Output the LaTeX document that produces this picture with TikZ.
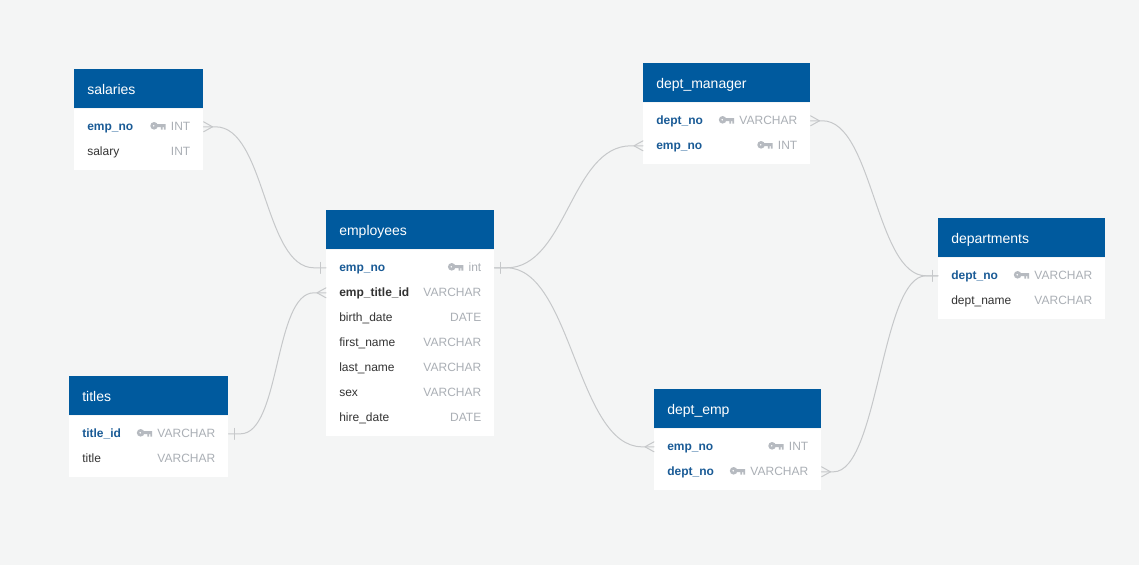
\documentclass[tikz,border=0pt]{standalone}
\usepackage{fontspec}
\setmainfont{Liberation Sans}
\usetikzlibrary{calc}
\definecolor{bgcol}{HTML}{F4F5F5}
\definecolor{headblue}{HTML}{005A9E}
\definecolor{keyblue}{HTML}{1A5B96}
\definecolor{coltext}{HTML}{333333}
\definecolor{typegray}{HTML}{AAAFB5}
\definecolor{keygray}{HTML}{B6BAC0}
\definecolor{linegray}{HTML}{C6C8CA}
\newcommand\rowfont{\fontsize{9}{11}\selectfont}
\begin{document}
\begin{tikzpicture}[x=0.75pt,y=-0.75pt,line join=round,line cap=round,
	every node/.style={inner sep=0pt},
	tblhead/.style={anchor=north west,fill=headblue,text=white,font=\fontsize{10.5}{12}\selectfont,
		text width=#1,align=left,inner xsep=9.75pt,minimum height=29.25pt,text height=9pt,text depth=0pt},
	row/.style={anchor=north west,text=coltext,font=\rowfont,text width=#1,align=left,
		inner xsep=9.75pt,minimum height=18.75pt,text height=5pt,text depth=0pt},
	col/.style={},
	pk/.style={text=keyblue,font=\rowfont\bfseries},
	fk/.style={font=\rowfont\bfseries},
	coltype/.style={anchor=east,text=typegray,font=\rowfont,text height=5pt,text depth=0pt},
	conn/.style={draw=linegray,line width=0.75pt},
	keyicon/.pic={
		\fill[keygray,even odd rule] (-11.6,-1) circle[radius=3.8] (-12,-1) circle[radius=1.1];
		\fill[keygray] (-8.5,-2.6) rectangle (0,0.3) (-4.8,0.3) rectangle (-3,2.7) (-1.9,0.3) rectangle (0,2.7);
	}]
	\fill[bgcol] (0,0) rectangle (1139,565);
	% salaries
	\node[tblhead=77.25pt] (sal) at (74,69) {salaries};
	\fill[white] (sal.south west) rectangle ++(129,61);
	\foreach \i/\n/\s/\t in {1/emp\_no/pk/INT,2/salary/col/INT}{
		\node[row=77.25pt,\s] (sal-\i) at ($(sal.south west)+(0,25*\i-19.5)$) {\n};
		\node[coltype] (sal-\i-t) at ([xshift=-9.75pt]sal-\i.east) {\t};
	}
	% employees
	\node[tblhead=106.5pt] (emp) at (326,210) {employees};
	\fill[white] (emp.south west) rectangle ++(168,186);
	\foreach \i/\n/\s/\t in {1/emp\_no/pk/int,2/emp\_title\_id/fk/VARCHAR,3/birth\_date/col/DATE,
		4/first\_name/col/VARCHAR,5/last\_name/col/VARCHAR,6/sex/col/VARCHAR,7/hire\_date/col/DATE}{
		\node[row=106.5pt,\s] (emp-\i) at ($(emp.south west)+(0,25*\i-19.5)$) {\n};
		\node[coltype] (emp-\i-t) at ([xshift=-9.75pt]emp-\i.east) {\t};
	}
	% titles
	\node[tblhead=99.75pt] (tit) at (69,376) {titles};
	\fill[white] (tit.south west) rectangle ++(159,61);
	\foreach \i/\n/\s/\t in {1/title\_id/pk/VARCHAR,2/title/col/VARCHAR}{
		\node[row=99.75pt,\s] (tit-\i) at ($(tit.south west)+(0,25*\i-19.5)$) {\n};
		\node[coltype] (tit-\i-t) at ([xshift=-9.75pt]tit-\i.east) {\t};
	}
	% dept_manager
	\node[tblhead=105.75pt] (dm) at (643,63) {dept\_manager};
	\fill[white] (dm.south west) rectangle ++(167,61);
	\foreach \i/\n/\s/\t in {1/dept\_no/pk/VARCHAR,2/emp\_no/pk/INT}{
		\node[row=105.75pt,\s] (dm-\i) at ($(dm.south west)+(0,25*\i-19.5)$) {\n};
		\node[coltype] (dm-\i-t) at ([xshift=-9.75pt]dm-\i.east) {\t};
	}
	% departments
	\node[tblhead=105.75pt] (dep) at (938,218) {departments};
	\fill[white] (dep.south west) rectangle ++(167,61);
	\foreach \i/\n/\s/\t in {1/dept\_no/pk/VARCHAR,2/dept\_name/col/VARCHAR}{
		\node[row=105.75pt,\s] (dep-\i) at ($(dep.south west)+(0,25*\i-19.5)$) {\n};
		\node[coltype] (dep-\i-t) at ([xshift=-9.75pt]dep-\i.east) {\t};
	}
	% dept_emp
	\node[tblhead=105.75pt] (de) at (654,389) {dept\_emp};
	\fill[white] (de.south west) rectangle ++(167,61);
	\foreach \i/\n/\s/\t in {1/emp\_no/pk/INT,2/dept\_no/pk/VARCHAR}{
		\node[row=105.75pt,\s] (de-\i) at ($(de.south west)+(0,25*\i-19.5)$) {\n};
		\node[coltype] (de-\i-t) at ([xshift=-9.75pt]de-\i.east) {\t};
	}
	\foreach \p in {sal-1-t,emp-1-t,tit-1-t,dm-1-t,dm-2-t,dep-1-t,de-1-t,de-2-t}
		\pic at ([xshift=-3.75pt]\p.west) {keyicon};
	% relations
	\draw[conn] (sal-1.east) -- ++(12,0) .. controls +(50,0) and +(-50,0) .. ([xshift=-9pt]emp-1.west) -- (emp-1.west);
	\draw[conn] (tit-1.east) -- ++(12,0) .. controls +(40,0) and +(-40,0) .. ([xshift=-9pt]emp-2.west) -- (emp-2.west);
	\draw[conn] (emp-1.east) -- ++(12,0) .. controls +(60,0) and +(-60,0) .. ([xshift=-9pt]dm-2.west) -- (dm-2.west);
	\draw[conn] (emp-1.east) -- ++(12,0) .. controls +(65,0) and +(-65,0) .. ([xshift=-9pt]de-1.west) -- (de-1.west);
	\draw[conn] (dm-1.east) -- ++(12,0) .. controls +(50,0) and +(-50,0) .. ([xshift=-9pt]dep-1.west) -- (dep-1.west);
	\draw[conn] (de-2.east) -- ++(12,0) .. controls +(45,0) and +(-45,0) .. ([xshift=-9pt]dep-1.west) -- (dep-1.west);
	\foreach \a/\d in {sal-1.east/1,emp-2.west/-1,dm-1.east/1,dm-2.west/-1,de-1.west/-1,de-2.east/1}
		\draw[conn] ($(\a)+(\d*9,0)$) -- ($(\a)+(0,-5)$) ($(\a)+(\d*9,0)$) -- ($(\a)+(0,5)$);
	\foreach \a/\d in {emp-1.west/-1,emp-1.east/1,tit-1.east/1,dep-1.west/-1}
		\draw[conn] ($(\a)+(\d*6,-5.5)$) -- ++(0,11);
\end{tikzpicture}
\end{document}
